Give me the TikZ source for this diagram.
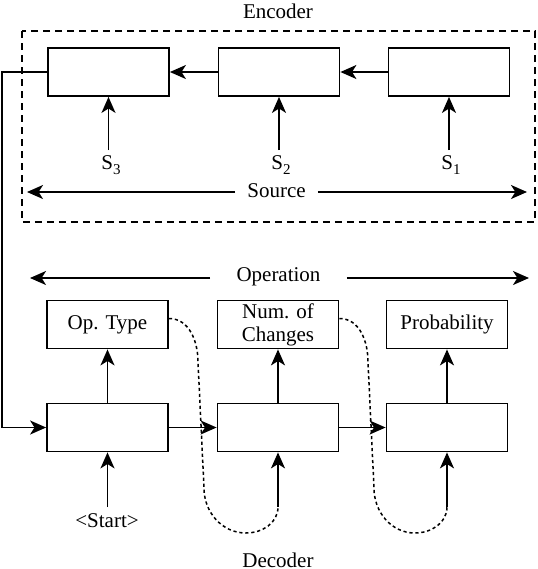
\documentclass[tikz,border=0pt]{standalone}
\usepackage{fontspec}
\setmainfont{Liberation Serif}
\usetikzlibrary{arrows.meta}
\newcommand{\lowsub}[1]{\raisebox{-0.55ex}{\fontsize{7.5}{8}\selectfont #1}}
\begin{document}
\begin{tikzpicture}[x=0.5pt,y=-0.5pt,
  font=\fontsize{10.5}{12}\selectfont,
  every path/.style={line width=0.9pt},
  blk/.style={draw,line width=0.9pt,minimum width=60.5pt,minimum height=24pt,inner sep=0pt,align=center},
  arr/.style={-{Stealth[length=8pt,width=7pt,inset=2.2pt]},line width=0.9pt},
  dots/.style={dash pattern=on 1.6pt off 1.4pt,line width=0.75pt},
  lbl/.style={inner sep=0pt}]
\useasboundingbox (0,0) rectangle (537,569);
% encoder frame
\draw[dash pattern=on 3.6pt off 2.4pt,line width=0.8pt] (22,31) rectangle (535,222);
\node[lbl] (enc) at (278,11) {Encoder};
% encoder boxes
\node[blk] (e1) at (108.5,72) {};
\node[blk] (e2) at (279,72) {};
\node[blk] (e3) at (449,72) {};
\draw[arr] (e3.west) -- (e2.east);
\draw[arr] (e2.west) -- (e1.east);
\node[lbl] (s3) at (111,165) {S\lowsub{3}};
\node[lbl] (s2) at (281,165) {S\lowsub{2}};
\node[lbl] (s1) at (451,165) {S\lowsub{1}};
\coordinate (s3in) at (e1.south |- 0,150);
\coordinate (s2in) at (e2.south |- 0,150);
\coordinate (s1in) at (e3.south |- 0,150);
\draw[arr] (s3in) -- (e1.south);
\draw[arr] (s2in) -- (e2.south);
\draw[arr] (s1in) -- (e3.south);
\node[inner sep=0pt,minimum width=40.5pt] (src) at (276.5,191) {};
\node[lbl] at (src) {Source};
\coordinate (srcL) at (27,192);
\coordinate (srcR) at (527,192);
\draw[arr] ([yshift=-0.5pt]src.west) -- (srcL);
\draw[arr] ([yshift=-0.5pt]src.east) -- (srcR);
% decoder
\node[inner sep=0pt,minimum width=67.5pt] (op) at (278.5,277) {};
\node[lbl] at (op) {Operation};
\coordinate (opL) at (30,278);
\coordinate (opR) at (529,278);
\draw[arr] ([yshift=-0.5pt]op.west) -- (opL);
\draw[arr] ([yshift=-0.5pt]op.east) -- (opR);
\node[blk] (o1) at (107.5,324.5) {Op. Type};
\node[blk,font=\fontsize{10.5}{11.5}\selectfont] (o2) at (278,324.5) {Num. of\\Changes};
\node[blk] (o3) at (447,324.5) {Probability};
\node[blk] (d1) at (107.5,427.5) {};
\node[blk] (d2) at (278,427.5) {};
\node[blk] (d3) at (447,427.5) {};
\draw[arr] (d1.north) -- (o1.south);
\draw[arr] (d2.north) -- (o2.south);
\draw[arr] (d3.north) -- (o3.south);
\draw[arr] (d1.east) -- (d2.west);
\draw[arr] (d2.east) -- (d3.west);
\draw[arr] (e1.west) -- ++(-45,0) |- (d1.west);
\node[lbl] (start) at (107,521) {<Start>};
\coordinate (d1in) at (d1.south |- 0,507);
\coordinate (d2in) at (d2.south |- 0,507);
\coordinate (d3in) at (d3.south |- 0,507);
\draw[arr] (d1in) -- (d1.south);
\draw[arr] (d2in) -- (d2.south);
\draw[arr] (d3in) -- (d3.south);
\draw[dots] ([yshift=3pt]o1.east) to[out=0,in=90] (198,362) -- (204,488) to[out=-90,in=180] (246,533) to[out=0,in=-90] (d2in);
\draw[dots] ([yshift=3pt]o2.east) to[out=0,in=90] (368,362) -- (374,488) to[out=-90,in=180] (415,533) to[out=0,in=-90] (d3in);
\node[lbl] (dec) at (278,560) {Decoder};
\end{tikzpicture}
\end{document}
